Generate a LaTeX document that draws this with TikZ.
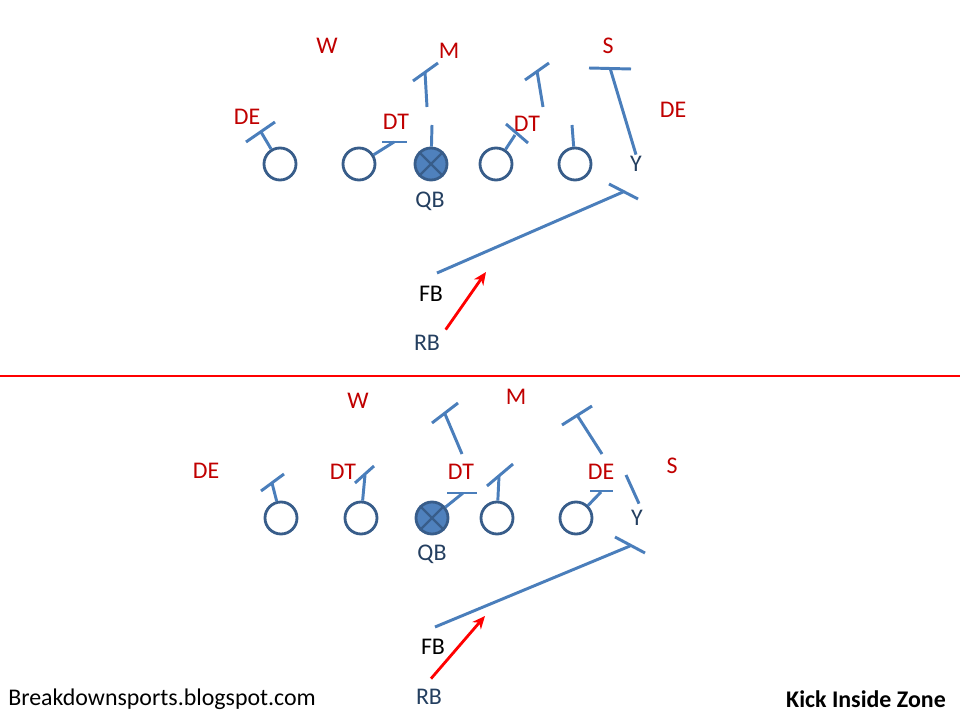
\documentclass[tikz,border=0pt]{standalone}
\usepackage{fontspec}
\setmainfont{Carlito}
\usetikzlibrary{arrows.meta}
\definecolor{blockblue}{HTML}{4A7EBB}
\definecolor{ringblue}{HTML}{385D8A}
\definecolor{qbfill}{HTML}{4F81BD}
\definecolor{defred}{HTML}{C00000}
\definecolor{offtext}{HTML}{243F60}
\begin{document}
\begin{tikzpicture}[x=0.025cm, y=-0.025cm]
		\tikzstyle{Player} = [circle, minimum size=0.8cm, inner sep=0pt, draw=ringblue, line width=2pt, fill=white]
		\tikzstyle{QBack} = [circle, minimum size=0.8cm, inner sep=0pt, draw=ringblue, line width=2pt, fill=qbfill]
		\tikzstyle{Def} = [text=defred, inner sep=1pt, font=\fontsize{17}{20}\selectfont]
		\tikzstyle{Off} = [text=offtext, inner sep=1pt, font=\fontsize{17}{20}\selectfont]
		\tikzstyle{block} = [draw=blockblue, line width=2.1pt]
		\tikzstyle{arrow} = [red, line width=2pt, -{Stealth[length=3.2mm, width=2.8mm, inset=1mm]}]
		\useasboundingbox (0,0) rectangle (960,720);
		
		% top play
		\node (c1) [Player] at (280,164) {};
		\node (c2) [Player] at (359,164) {};
		\node (qb) [QBack] at (431,164) {};
		\node (c4) [Player] at (496,164) {};
		\node (c5) [Player] at (575,164) {};
		\draw [ringblue, line width=1.6pt] (qb.45) -- (qb.225) (qb.135) -- (qb.315);
		\node (W) [Def] at (327,46) {W};
		\node (M) [Def] at (449,51) {M};
		\node (S) [Def] at (608,46) {S};
		\node (DEl) [Def] at (247,117) {DE};
		\node (DTl) [Def] at (396,122) {DT};
		\node (DTr) [Def] at (527,124) {DT};
		\node (DEr) [Def] at (673,110) {DE};
		\node (y) [Off] at (636,164) {Y};
		\node (qbtext) [Off] at (430,201) {QB};
		\node (fb) [inner sep=1pt, font=\fontsize{17}{20}\selectfont] at (431,294) {FB};
		\node (rb) [Off] at (427,343) {RB};
		
		\coordinate (e1) at (261,132);
		\coordinate (e2) at (394,142);
		\coordinate (e3) at (432,125);
		\coordinate (m1) at (427,107);
		\coordinate (m2) at (425,72);
		\coordinate (e4) at (515,135);
		\coordinate (d1) at (543,107);
		\coordinate (d2) at (537,71);
		\coordinate (e5) at (572,125);
		\coordinate (s1) at (610,68);
		\coordinate (fbgo) at (437,273);
		\coordinate (yb) at (623,192);
		\coordinate (hole) at (486,272);
		
		\draw [block] (c1) -- (e1);
		\draw [block] (246,142) -- (275,122);
		\draw [block] (c2) -- (e2);
		\draw [block] (382,142) -- (407,142);
		\draw [block] (qb) -- (e3);
		\draw [block] (m1) -- (m2);
		\draw [block] (413,81) -- (438,63);
		\draw [block] (c4) -- (e4);
		\draw [block] (506,124) -- (528,143);
		\draw [block] (d1) -- (d2);
		\draw [block] (525,80) -- (549,63);
		\draw [block] (c5) -- (e5);
		\draw [block] (y.north) -- (s1);
		\draw [block] (589,68) -- (631,69);
		\draw [block] (fbgo) -- (yb);
		\draw [block] (609,184) -- (638,199);
		\draw [arrow] (rb.north east) ++(4,-4) -- (hole);
		
		% divider
		\draw [red, line width=1.5pt] (0,376) -- (960,376);
		
		% bottom play
		\node (k1) [Player] at (281,518) {};
		\node (k2) [Player] at (361,518) {};
		\node (qb2) [QBack] at (432,518) {};
		\node (k4) [Player] at (497,518) {};
		\node (k5) [Player] at (576,518) {};
		\draw [ringblue, line width=1.6pt] (qb2.45) -- (qb2.225) (qb2.135) -- (qb2.315);
		\node (W2) [Def] at (358,401) {W};
		\node (M2) [Def] at (516,397) {M};
		\node (DE2l) [Def] at (206,471) {DE};
		\node (DT2l) [Def] at (343,472) {DT};
		\node (DT2r) [Def] at (461,472) {DT};
		\node (DE2r) [Def] at (601,472) {DE};
		\node (S2) [Def] at (672,466) {S};
		\node (y2) [Off] at (637,518) {Y};
		\node (qbtext2) [Off] at (432,554) {QB};
		\node (fb2) [inner sep=1pt, font=\fontsize{17}{20}\selectfont] at (433,647) {FB};
		\node (rb2) [Off] at (429,697) {RB};
		
		\coordinate (f1) at (272,483);
		\coordinate (f2) at (365,475);
		\coordinate (w1) at (462,454);
		\coordinate (w2) at (445,414);
		\coordinate (f3) at (463,493);
		\coordinate (f4) at (499,476);
		\coordinate (n1) at (602,454);
		\coordinate (n2) at (577,415);
		\coordinate (f5) at (601,492);
		\coordinate (ys) at (626,475);
		\coordinate (fbgo2) at (435,627);
		\coordinate (yb2) at (630,546);
		\coordinate (hole2) at (485,616);
		
		\draw [block] (k1) -- (f1);
		\draw [block] (261,491) -- (284,474);
		\draw [block] (k2) -- (f2);
		\draw [block] (355,483) -- (374,466);
		\draw [block] (w1) -- (w2);
		\draw [block] (432,423) -- (458,403);
		\draw [block] (qb2) -- (f3);
		\draw [block] (447,493) -- (477,493);
		\draw [block] (k4) -- (f4);
		\draw [block] (487,486) -- (513,464);
		\draw [block] (n1) -- (n2);
		\draw [block] (562,425) -- (592,406);
		\draw [block] (k5) -- (f5);
		\draw [block] (590,491) -- (613,491);
		\draw [block] (y2.north) ++(2,-5) -- (ys);
		\draw [block] (fbgo2) -- (yb2);
		\draw [block] (615,537) -- (645,553);
		\draw [arrow] (rb2.north) ++(2,-9) -- (hole2);
		
		% footer
		\node (site) [anchor=west, inner sep=0pt, font=\fontsize{17}{20}\selectfont] at (8,699) {Breakdownsports.blogspot.com};
		\node (title) [anchor=east, inner sep=0pt, font=\fontsize{17}{20}\selectfont\bfseries] at (946,699) {Kick Inside Zone};
		\end{tikzpicture}
\end{document}
